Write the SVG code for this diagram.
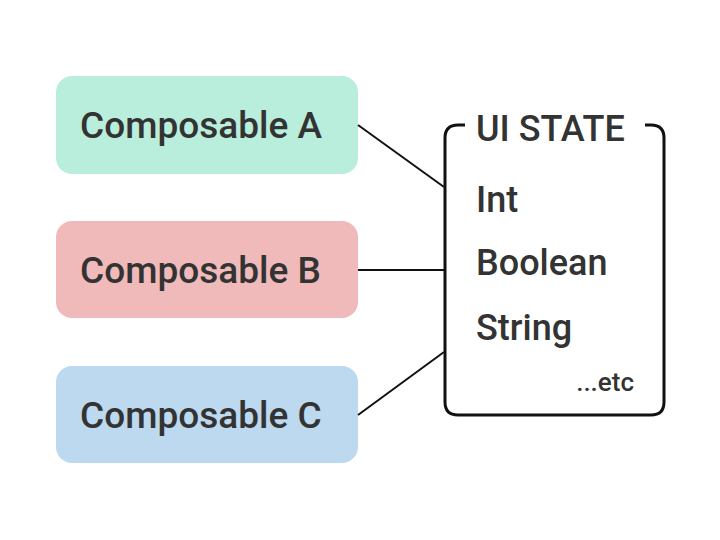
<svg xmlns="http://www.w3.org/2000/svg" width="720" height="540" viewBox="0 0 720 540">
<style>
text{font-family:Roboto,"Liberation Sans",sans-serif;fill:#333;font-weight:500}
.n{font-size:37px}
.c line,.c path{stroke:#111;stroke-width:2;fill:none}
</style>
<rect width="720" height="540" fill="#fff"/>
<g id="nodeA"><rect x="56" y="76" width="302" height="98" rx="16" fill="#b8eedb"/><text class="n" x="80" y="138">Composable A</text></g>
<g id="nodeB"><rect x="56" y="221" width="302" height="97" rx="16" fill="#f0baba"/><text class="n" x="80" y="283">Composable B</text></g>
<g id="nodeC"><rect x="56" y="366" width="302" height="97" rx="16" fill="#bcd9ef"/><text class="n" x="80" y="428">Composable C</text></g>
<g id="uistate">
<path d="M465,125 H458 Q445,125 445,138 V402 Q445,415 458,415 H651 Q664,415 664,402 V138 Q664,125 651,125 H645" stroke="#111" stroke-width="3" fill="none"/>
<text x="476" y="141" font-size="36">UI STATE</text>
<text x="476" y="212" font-size="36">Int</text>
<text x="476" y="275" font-size="36">Boolean</text>
<text x="476" y="340" font-size="36">String</text>
<text x="634" y="391" font-size="26" text-anchor="end">...etc</text>
</g>
<g class="c">
<line x1="358" y1="125" x2="444" y2="187"/>
<line x1="358" y1="270" x2="444" y2="270"/>
<line x1="358" y1="415" x2="444" y2="352"/>
</g>
</svg>
